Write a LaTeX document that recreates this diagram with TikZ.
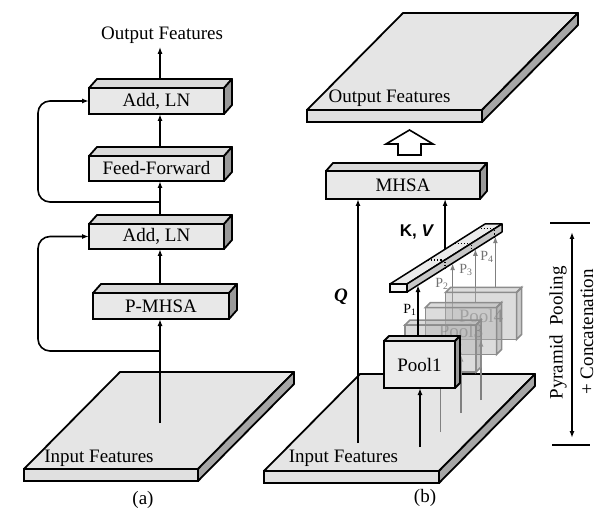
\documentclass[tikz,border=0pt]{standalone}
\usepackage{fontspec}
\setmainfont{Liberation Serif}
\setsansfont{Liberation Sans}
\usepackage{tikz}
\usetikzlibrary{calc,arrows.meta}
\usepackage{amsmath}
\pgfdeclarelayer{plates}
\pgfdeclarelayer{links}
\pgfsetlayers{plates,links,main}

\begin{document}
\begin{tikzpicture}[x=1pt,y=1pt,
  every node/.style={font=\fontsize{19}{22}\selectfont},
  blk/.style={draw,line width=1.8pt,fill=black!9,minimum width=135pt,minimum height=26pt,inner sep=0pt,outer sep=0pt},
  blk top/.style={draw,line width=1.8pt,fill=black!15,line join=round},
  blk side/.style={draw,line width=1.8pt,fill=black!40,line join=round},
  plate top/.style={draw,line width=1.8pt,fill=black!10,line join=round},
  plate front/.style={draw,line width=1.8pt,fill=black!12},
  plate side/.style={draw,line width=1.8pt,fill=black!35,line join=round},
  pool/.style={draw,line width=1.8pt,fill=black!8,minimum width=71pt,minimum height=47pt,inner sep=0pt,outer sep=0pt},
  pool top/.style={draw,line width=1.8pt,fill=black!15,line join=round},
  pool side/.style={draw,line width=1.8pt,fill=black!40,line join=round},
  ghost/.style={draw=black!45,line width=1.5pt,fill=black!30,fill opacity=0.45,text=black!70,text opacity=0.5,minimum width=71pt,minimum height=47pt,inner sep=0pt,outer sep=0pt},
  ghost top/.style={draw=black!45,line width=1.5pt,fill=black!30,fill opacity=0.45},
  ghost side/.style={draw=black!45,line width=1.5pt,fill=black!45,fill opacity=0.45},
  arr/.style={line width=1.6pt,-{Latex[length=7pt,width=5pt]}},
  garr/.style={arr,draw=black!50},
  small/.style={font=\fontsize{14}{16}\selectfont}]
\useasboundingbox (0,0) rectangle (600,-513);

% ---------------- (a) ----------------
% input plate
\coordinate (pa) at (24,-469);
\begin{pgfonlayer}{plates}
\draw[plate top] (pa) -- ++(174,0) -- ++(96,97) -- ++(-174,0) -- cycle;
\draw[plate front] (pa) rectangle ++(174,-12);
\draw[plate side] ($(pa)+(174,0)$) -- ++(96,97) -- ++(0,-12) -- ++(-96,-97) -- cycle;
\end{pgfonlayer}
\node (ina) at (99,-458) {Input Features};

% the blocks
\node[blk] (addtop) at (156.5,-101) {Add, LN};
\node[blk,minimum height=25pt] (ff) at (156.5,-168.5) {Feed-Forward};
\node[blk,minimum height=25pt] (addlow) at (156.5,-236.5) {Add, LN};
\node[blk,minimum width=136pt] (pmhsa) at (161,-306) {P-MHSA};
\foreach \n in {addtop,ff,addlow,pmhsa}{
  \draw[blk top] (\n.north west) -- ++(8,9) -- ($(\n.north east)+(8,9)$) -- (\n.north east) -- cycle;
  \draw[blk side] (\n.north east) -- ++(8,9) -- ($(\n.south east)+(8,9)$) -- (\n.south east) -- cycle;
}
\node (outa) at (162,-35) {Output Features};

% main flow
\coordinate (srca) at (160,-423);
\coordinate (j1) at (160,-202);
\coordinate (j2) at (160,-351);
\draw[arr] (srca) -- (srca |- pmhsa.south);
\foreach \a/\b in {pmhsa/addlow,addlow/ff,ff/addtop,addtop/outa}
  \draw[arr] ($(srca |- \a.north)+(0,9)$) -- (srca |- \b.south);

% residual links
\draw[arr,rounded corners=12pt] (j1) -| ($(addtop.west)+(-51,0)$) -- (addtop.west);
\draw[arr,rounded corners=12pt] (j2) -| ($(addlow.west)+(-51,0)$) -- (addlow.west);

\node (capa) at (143,-500) {(a)};

% ---------------- (b) ----------------
% input and output plates
\coordinate (pb) at (264,-471);
\coordinate (pout) at (307,-110);
\begin{pgfonlayer}{plates}
\foreach \p in {pb,pout}{
  \draw[plate top] (\p) -- ++(175,0) -- ++(96,97) -- ++(-175,0) -- cycle;
  \draw[plate front] (\p) rectangle ++(175,-12);
  \draw[plate side] ($(\p)+(175,0)$) -- ++(96,97) -- ++(0,-12) -- ++(-96,-97) -- cycle;
}
\end{pgfonlayer}
\node (inb) at (343.5,-458) {Input Features};
\node (outb) at (389.5,-98) {Output Features};

% hollow arrow up to the output
\draw[line width=1.6pt,fill=white,line join=miter]
  (398,-155) -- (398,-144) -- (386,-144) -- (409.5,-130) -- (433,-144) -- (421,-144) -- (421,-155) -- cycle;

% attention block
\node[blk,minimum width=154pt,minimum height=28pt] (mhsa) at (403,-185) {MHSA};
\draw[blk top] (mhsa.north west) -- ++(7,8) -- ($(mhsa.north east)+(7,8)$) -- (mhsa.north east) -- cycle;
\draw[blk side] (mhsa.north east) -- ++(7,8) -- ($(mhsa.south east)+(7,8)$) -- (mhsa.south east) -- cycle;

% query path
\coordinate (qsrc) at (358,-443);
\draw[arr] (qsrc) -- (qsrc |- mhsa.south);
\node (qlab) at (341,-297) {\textbf{\textit{Q}}};

% concatenated bar corners
\coordinate (barA) at (390,-284);
\coordinate (barB) at (407,-284);
\coordinate (barC) at (407,-292);
\coordinate (barD) at (390,-292);
\coordinate (barAv) at ($(barA)+(95,60)$);
\coordinate (barBv) at ($(barB)+(95,60)$);
\coordinate (barCv) at ($(barC)+(95,60)$);

% pooling blocks, back to front
\foreach \i/\x/\y/\st in {4/481/-316/ghost,3/461/-331/ghost,2/440.5/-348.5/ghost,1/419.5/-364.5/pool}{
  \node[\st] (pool\i) at (\x,\y) {Pool\i};
  \draw[\st\space top] (pool\i.north west) -- ++(5,5) -- ($(pool\i.north east)+(5,5)$) -- (pool\i.north east) -- cycle;
  \draw[\st\space side] (pool\i.north east) -- ++(5,5) -- ($(pool\i.south east)+(5,5)$) -- (pool\i.south east) -- cycle;
}

% grey links behind the ghost blocks
\begin{pgfonlayer}{links}
\foreach \i/\x/\y in {2/440.5/-432,3/461/-413,4/481/-400}{
  \coordinate (src\i) at (\x,\y);
  \draw[garr] (src\i) -- (src\i |- pool\i.south);
}
\foreach \i/\t in {2/0.48,3/0.72,4/0.93}{
  \coordinate (tip\i) at ($(barC)!\t!(barCv)$);
  \draw[garr] ($(tip\i |- pool\i.north)+(0,5)$) -- (tip\i);
}
\end{pgfonlayer}

% front links
\coordinate (src1) at (420,-447);
\draw[arr] (src1) -- (src1 |- pool1.south);
\coordinate (tip1) at ($(barC)!0.116!(barCv)$);
\draw[arr] ($(tip1 |- pool1.north)+(0,5)$) -- (tip1);

% the bar
\draw[line width=1.5pt,fill=black!8,line join=round] (barA) -- (barB) -- (barBv) -- (barAv) -- cycle;
\draw[line width=1.5pt,fill=black!22,line join=round] (barB) -- (barC) -- (barCv) -- (barBv) -- cycle;
\draw[line width=1.5pt,fill=black!4] (barA) rectangle (barC);
\foreach \t in {0.4,0.68,0.92}
  \draw[dotted,line width=1.1pt] ($(barA)!\t!(barAv)$) -- ($(barB)!\t!(barBv)$) -- ($(barC)!\t!(barCv)$);

% key/value path
\coordinate (kvsrc) at ($(barA)!0.58!(barAv)$);
\draw[arr] (kvsrc) -- (kvsrc |- mhsa.south);
\node (kvlab) at (417,-232) {\fontsize{17}{20}\selectfont\sffamily\bfseries K, \textit{V}};

% pooled feature labels
\node[small] (p1) at (410,-310) {P\textsubscript{1}};
\node[small,text=black!55] (p2) at (442,-284) {P\textsubscript{2}};
\node[small,text=black!55] (p3) at (466,-270) {P\textsubscript{3}};
\node[small,text=black!55] (p4) at (487,-257) {P\textsubscript{4}};

% pyramid pooling bracket
\coordinate (brt) at (572,-223);
\coordinate (brb) at (572,-445);
\draw[line width=1.8pt] ([xshift=-22pt]brt) -- ([xshift=18pt]brt);
\draw[line width=1.8pt] ([xshift=-20pt]brb) -- ([xshift=18pt]brb);
\draw[line width=1.6pt,{Latex[length=7pt,width=5pt]}-{Latex[length=7pt,width=5pt]}] ([yshift=-9pt]brt) -- ([yshift=7pt]brb);
\node[rotate=90] (pyr) at (558,-333) {Pyramid\ \ Pooling};
\node[rotate=90] (cat) at (587,-332) {+ Concatenation};

\node (capb) at (425,-498) {(b)};
\end{tikzpicture}
\end{document}
